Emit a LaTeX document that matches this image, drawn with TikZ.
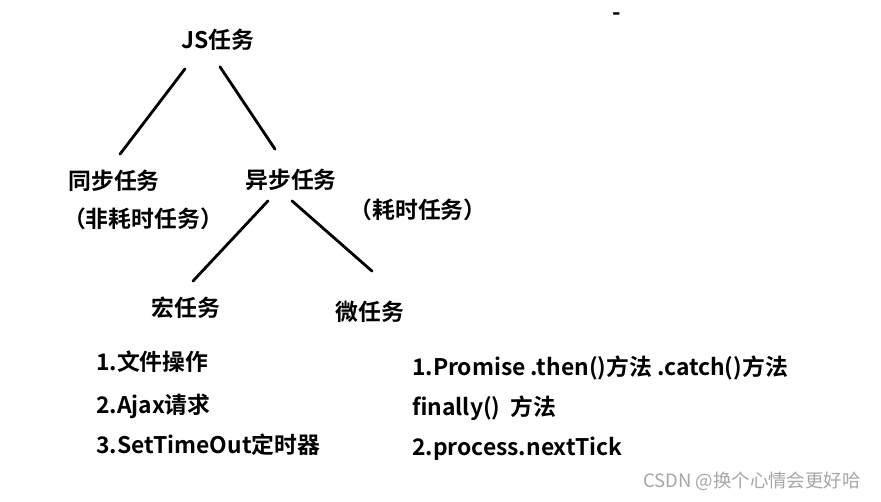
\documentclass[tikz,border=0pt]{standalone}
\usepackage{fontspec}
\setmainfont{Noto Sans CJK SC}[BoldFont={* Bold}]
\begin{document}
\begin{tikzpicture}[x=0.02cm,y=-0.02cm,
    lbl/.style={font=\bfseries\fontsize{13}{15}\selectfont,inner sep=1pt},
    item/.style={lbl,anchor=west},
    branch/.style={line width=1.6pt,line cap=round}]
  \useasboundingbox (0,0) rectangle (881,501);
  % tree
  \node[lbl] (js) at (218,40) {JS任务};
  \node[lbl] (sync) at (114,181) {同步任务};
  \node[lbl] (syncnote) at (143,219) {（非耗时任务）};
  \node[lbl] (async) at (291,180) {异步任务};
  \node[lbl] (asyncnote) at (418,210) {（耗时任务）};
  \node[lbl] (macro) at (186,308) {宏任务};
  \node[lbl] (micro) at (370,312) {微任务};
  \draw[branch] ([shift={(-33,16)}]js.south) -- ([shift={(6,-14)}]sync.north);
  \draw[branch] ([shift={(2,14)}]js.south) -- ([shift={(-16,-18)}]async.north);
  \draw[branch] ([shift={(-23,8)}]async.south) -- ([shift={(7,-14)}]macro.north);
  \draw[branch] ([shift={(1,8)}]async.south) -- ([shift={(2,-28)}]micro.north);
  % lists
  \node[item] (m1) at (94,362) {1.文件操作};
  \node[item] (m2) at (94,406) {2.Ajax请求};
  \node[item] (m3) at (94,445) {3.SetTimeOut定时器};
  \node[item] (u1) at (410,368) {1.Promise .then()方法 .catch()方法};
  \node[item] (u2) at (410,408) {finally()\ \ 方法};
  \node[item] (u3) at (410,449) {2.process.nextTick};
  % marks
  \node[lbl] (dash) at (617,17) {-};
  \node[font=\fontsize{10.5}{12}\selectfont,text=gray!70] (mark) at (752,481) {CSDN @换个心情会更好哈};
\end{tikzpicture}
\end{document}
